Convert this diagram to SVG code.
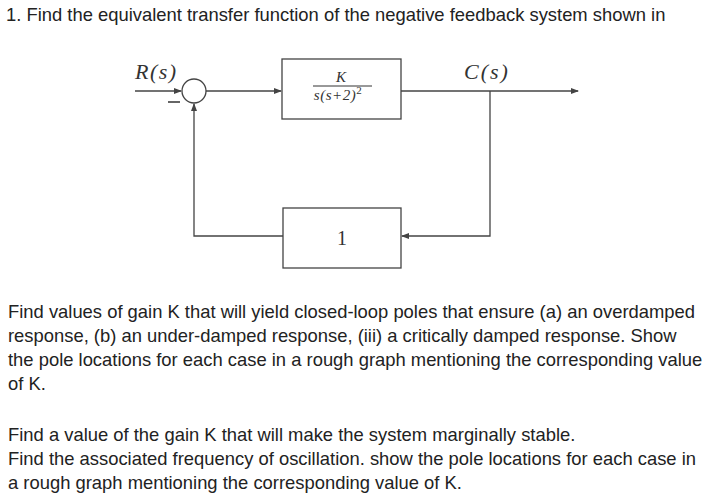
<svg xmlns="http://www.w3.org/2000/svg" width="711" height="496" viewBox="0 0 711 496">
<style>
.t{font-family:"Liberation Sans",Arial,sans-serif;font-size:18.4px;fill:#222}
.m{font-family:"Liberation Serif","Times New Roman",serif;fill:#333;font-style:italic}
.l{stroke:#444;stroke-width:1.3;fill:none}
.b{stroke:#444;stroke-width:1.3;fill:#fff}
</style>
<defs><marker id="a" markerWidth="8" markerHeight="6" refX="7" refY="3" orient="auto" markerUnits="userSpaceOnUse"><path d="M0,0 L8,3 L0,6z" fill="#444"/></marker></defs>
<rect width="711" height="496" fill="#fff"/>
<text class="t" x="6" y="21">1.  Find the equivalent transfer function of the negative feedback system shown in</text>
<g id="connectors">
<path class="l" d="M135,91 H181" marker-end="url(#a)"/>
<path class="l" d="M206,91 H281" marker-end="url(#a)"/>
<path class="l" d="M401,91 H578" marker-end="url(#a)"/>
<path class="l" d="M490,91 V236 H402" marker-end="url(#a)"/>
<path class="l" d="M283,236 H194 V104" marker-end="url(#a)"/>
</g>
<g id="sum"><circle class="b" cx="194" cy="91" r="12"/>
<text class="m" x="135" y="79" font-size="22" letter-spacing="1.5">R(s)</text>
<line x1="168" y1="102" x2="180" y2="102" stroke="#333" stroke-width="1.5"/></g>
<g id="plant"><rect class="b" x="282" y="59" width="119" height="60"/>
<text class="m" x="341" y="82" font-size="15" text-anchor="middle">K</text>
<line x1="313" y1="86" x2="372" y2="86" stroke="#333" stroke-width="1"/>
<text class="m" x="338" y="100" font-size="15" text-anchor="middle" letter-spacing="0.5">s(s+2)<tspan font-style="normal" font-size="11" dy="-6">2</tspan></text></g>
<text class="m" x="464" y="79" font-size="22" letter-spacing="2">C(s)</text>
<g id="feedback"><rect class="b" x="283" y="208" width="118" height="60"/>
<text x="342" y="245" font-family="Liberation Serif,serif" font-size="20" fill="#333" text-anchor="middle">1</text></g>
<text class="t" x="8" y="318">Find values of gain K that will yield closed-loop poles that ensure (a) an overdamped</text>
<text class="t" x="8" y="342">response, (b) an under-damped response, (iii) a critically damped response. Show</text>
<text class="t" x="8" y="366">the pole locations for each case in a rough graph mentioning the corresponding value</text>
<text class="t" x="8" y="390">of K.</text>
<text class="t" x="8" y="441">Find a value of the gain K that will make the system marginally stable.</text>
<text class="t" x="8" y="465">Find the associated frequency of oscillation.  show the pole locations for each case in</text>
<text class="t" x="8" y="489">a rough graph mentioning the corresponding value of K.</text>
</svg>
